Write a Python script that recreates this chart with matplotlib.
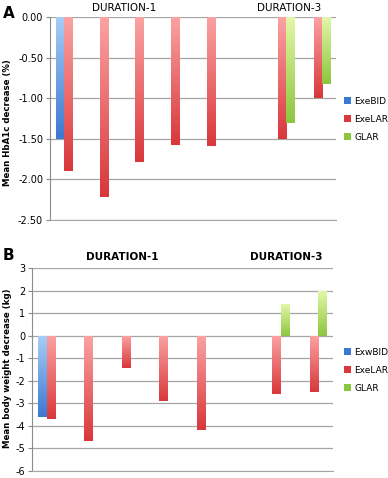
import matplotlib
matplotlib.use("Agg")
import matplotlib.pyplot as plt
from matplotlib.colors import LinearSegmentedColormap
from matplotlib.patches import Patch
import numpy as np

nan = np.nan

# data
categories = np.arange(8)
a_bid = [-1.50, nan, nan, nan, nan, nan, nan, nan]
a_lar = [-1.90, -2.22, -1.78, -1.58, -1.59, nan, -1.50, -1.00]
a_glar = [nan, nan, nan, nan, nan, nan, -1.30, -0.82]
a_ticks = [0.0, -0.5, -1.0, -1.5, -2.0, -2.5]

b_bid = [-3.6, nan, nan, nan, nan, nan, nan, nan]
b_lar = [-3.7, -4.7, -1.45, -2.9, -4.2, nan, -2.6, -2.5]
b_glar = [nan, nan, nan, nan, nan, nan, 1.4, 2.0]
b_ticks = [3, 2, 1, 0, -1, -2, -3, -4, -5, -6]

# light (top) -> dark (bottom)
blue = ("#a8cdf7", "#3b78cf")
red = ("#fba3a3", "#d9373b")
green = ("#e3f7a8", "#8cc63e")

W, H = 388, 478
fig = plt.figure(figsize=(W / 100, H / 100), dpi=100)
plt.rcParams['font.family'] = ['DejaVu Sans']


def fx(px):
    return px / W


def fy(py):
    return 1 - py / H


def grad_bars(ax, x, vals, cols, width):
    bars = ax.bar(x, vals, width, color='none', edgecolor='none', zorder=3)
    cmap = LinearSegmentedColormap.from_list('g', [cols[1], cols[0]])
    grad = np.linspace(0, 1, 256).reshape(-1, 1)
    for b in bars:
        h = b.get_height()
        if np.isnan(h) or h == 0:
            continue
        x0 = b.get_x()
        y0 = b.get_y()
        lo, hi = min(y0, y0 + h), max(y0, y0 + h)
        im = ax.imshow(grad, cmap=cmap, origin='lower', aspect='auto',
                       extent=(x0, x0 + b.get_width(), lo, hi), zorder=3)
        im.set_clip_path(b)
    return bars


def panel(left, bottom_px, right, top_px, bid, lar, glar, ticks, fmt, ylabel, lab_y):
    ax = fig.add_axes([fx(left), fy(bottom_px), fx(right - left), (bottom_px - top_px) / H])
    w = 0.225
    grad_bars(ax, categories - w, bid, blue, w)
    grad_bars(ax, categories, lar, red, w)
    grad_bars(ax, categories + w, glar, green, w)
    ax.set_xlim(-0.5, 7.5)
    ax.set_ylim(min(ticks), max(ticks))
    ax.set_yticks(ticks)
    ax.set_yticklabels([fmt.format(t) for t in ticks], fontsize=7)
    ax.set_xticks([])
    ax.grid(axis='y', color='#a6a6a6', linewidth=0.9, zorder=0)
    ax.set_axisbelow(True)
    for s in ['top', 'right']:
        ax.spines[s].set_visible(False)
    ax.spines['left'].set_color('#8c8c8c')
    ax.spines['bottom'].set_color('#a6a6a6')
    ax.tick_params(axis='y', length=3, color='#8c8c8c', pad=2)
    # y label placed by pixel position
    fig.text(fx(7.5), fy(lab_y), ylabel, fontsize=6.2, fontweight='bold',
             rotation=90, ha='center', va='center')
    return ax


axA = panel(50, 220, 336, 17, a_bid, a_lar, a_glar, a_ticks, "{:.2f}",
            "Mean HbA1c decrease (%)", 123)
axB = panel(32, 470.7, 333, 268.3, b_bid, b_lar, b_glar, b_ticks, "{:g}",
            "Mean body weight decrease (kg)", 368)

fig.text(fx(124), fy(8), "DURATION-1", fontsize=7.5, ha='center', va='center')
fig.text(fx(289), fy(8), "DURATION-3", fontsize=7.5, ha='center', va='center')
fig.text(fx(122), fy(257), "DURATION-1", fontsize=7.5, fontweight='bold', ha='center', va='center')
fig.text(fx(286), fy(257), "DURATION-3", fontsize=7.5, fontweight='bold', ha='center', va='center')
fig.text(fx(3), fy(13), "A", fontsize=11, fontweight='bold', va='center')
fig.text(fx(3), fy(256), "B", fontsize=11, fontweight='bold', va='center')


def legend(labels, top_px):
    cols = [blue, red, green]
    handles = [Patch(facecolor=c[1], edgecolor='none') for c in cols]
    fig.legend(handles, labels, loc='upper left', bbox_to_anchor=(fx(339), fy(top_px)),
               frameon=False, fontsize=6.5, handlelength=0.8, handleheight=0.8,
               handletextpad=0.4, labelspacing=1.0, borderpad=0)


legend(["ExeBID", "ExeLAR", "GLAR"], 92)
legend(["ExwBID", "ExeLAR", "GLAR"], 343)

fig.savefig("out.png", dpi=100)
